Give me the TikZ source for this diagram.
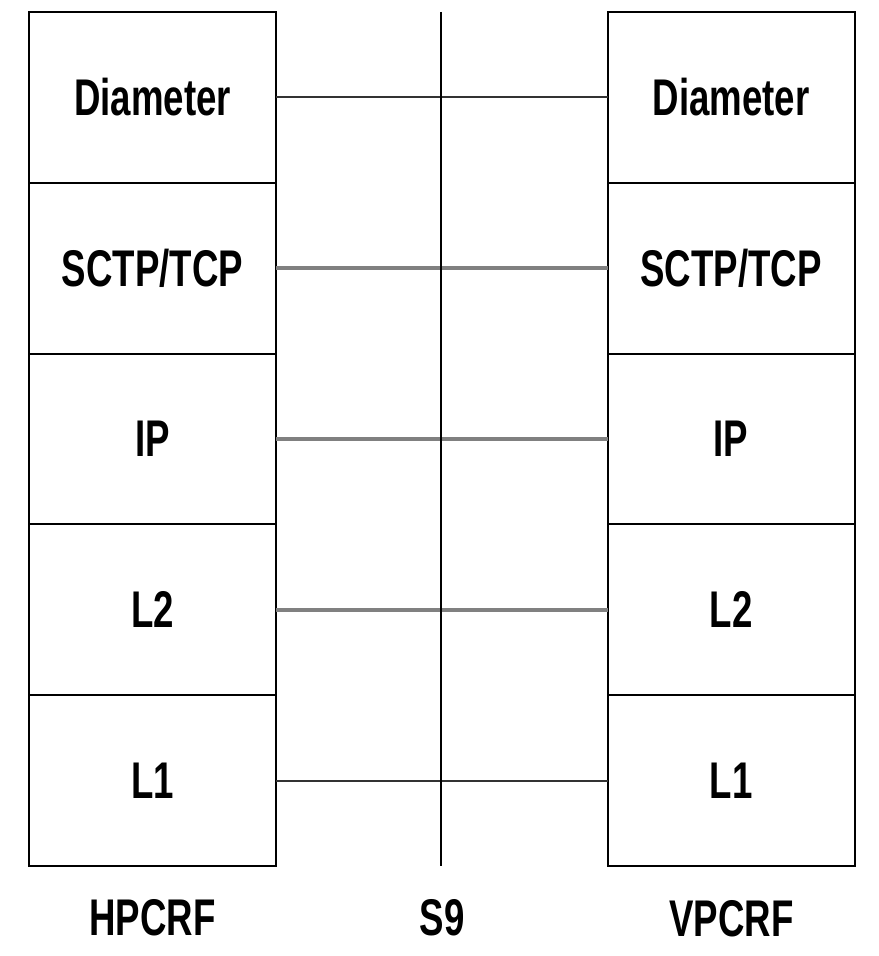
\documentclass[tikz,border=0pt]{standalone}
\usepackage{fontspec}
\newfontfamily\stackfont[FakeStretch=0.71]{Liberation Sans Bold}
\usetikzlibrary{positioning}
\tikzset{
    layer/.style={draw, line width=1pt, minimum width=123.5pt, minimum height=85.4pt,
        inner sep=0pt, outer sep=0pt, font=\stackfont\fontsize{25.8}{30}\selectfont},
    caption/.style={font=\stackfont\fontsize{25.8}{30}\selectfont, inner sep=0pt},
    peer/.style={line width=1pt, black!80},
    peergray/.style={line width=2pt, gray}
}
\begin{document}
\begin{tikzpicture}[x=0.5pt,y=-0.5pt]
\useasboundingbox[fill=white] (0,0) rectangle (878,956);
% protocol stacks
\node[layer] (h1) at (152.5,97.4) {Diameter};
\node[layer, below=0pt of h1] (h2) {SCTP/TCP};
\node[layer, below=0pt of h2] (h3) {IP};
\node[layer, below=0pt of h3] (h4) {L2};
\node[layer, below=0pt of h4] (h5) {L1};
\node[layer] (v1) at (731,97.4) {Diameter};
\node[layer, below=0pt of v1] (v2) {SCTP/TCP};
\node[layer, below=0pt of v2] (v3) {IP};
\node[layer, below=0pt of v3] (v4) {L2};
\node[layer, below=0pt of v4] (v5) {L1};
% peer links
\draw[peer] (h1.east) -- (v1.west);
\draw[peergray] (h2.east) -- (v2.west);
\draw[peergray] (h3.east) -- (v3.west);
\draw[peergray] (h4.east) -- (v4.west);
\draw[peer] (h5.east) -- (v5.west);
% reference point
\coordinate (s9top) at (441,12);
\coordinate (s9bot) at (441,866);
\draw[line width=1pt] (s9top) -- (s9bot);
\node[caption] (hpcrf) at (152.5,918) {HPCRF};
\node[caption] (s9) at (442,918) {S9};
\node[caption] (vpcrf) at (731.5,919) {VPCRF};
\end{tikzpicture}
\end{document}
